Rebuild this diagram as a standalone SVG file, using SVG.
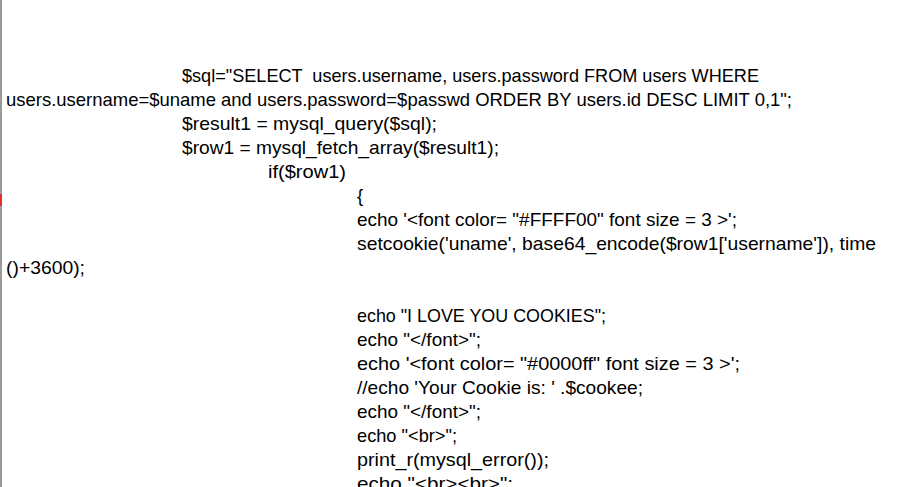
<svg xmlns="http://www.w3.org/2000/svg" width="917" height="487" viewBox="0 0 917 487">
<style>text{font-family:"Liberation Sans",Arial,sans-serif;font-size:18.5px;fill:#000;white-space:pre}</style>
<rect width="917" height="487" fill="#fff"/>
<line x1="1" y1="0" x2="1" y2="487" stroke="#9a9a9a" stroke-width="2"/>
<line x1="1" y1="194" x2="1" y2="206" stroke="#e03030" stroke-width="2"/>
<g id="code">
<text x="182" y="82" textLength="577" lengthAdjust="spacingAndGlyphs" xml:space="preserve">$sql="SELECT  users.username, users.password FROM users WHERE</text>
<text x="6" y="106" textLength="786" lengthAdjust="spacingAndGlyphs">users.username=$uname and users.password=$passwd ORDER BY users.id DESC LIMIT 0,1";</text>
<text x="182" y="130" textLength="255" lengthAdjust="spacingAndGlyphs">$result1 = mysql_query($sql);</text>
<text x="182" y="154" textLength="317" lengthAdjust="spacingAndGlyphs">$row1 = mysql_fetch_array($result1);</text>
<text x="268" y="178" textLength="78" lengthAdjust="spacingAndGlyphs">if($row1)</text>
<text x="357" y="202">{</text>
<text x="357" y="226" textLength="380" lengthAdjust="spacingAndGlyphs">echo '&lt;font color= "#FFFF00" font size = 3 &gt;';</text>
<text x="357" y="250" textLength="519" lengthAdjust="spacingAndGlyphs">setcookie('uname', base64_encode($row1['username']), time</text>
<text x="6" y="274" textLength="79" lengthAdjust="spacingAndGlyphs">()+3600);</text>
<text x="357" y="322" textLength="249" lengthAdjust="spacingAndGlyphs">echo "I LOVE YOU COOKIES";</text>
<text x="357" y="346" textLength="124" lengthAdjust="spacingAndGlyphs">echo "&lt;/font&gt;";</text>
<text x="357" y="370" textLength="383" lengthAdjust="spacingAndGlyphs">echo '&lt;font color= "#0000ff" font size = 3 &gt;';</text>
<text x="357" y="394" textLength="286" lengthAdjust="spacingAndGlyphs">//echo 'Your Cookie is: ' .$cookee;</text>
<text x="357" y="418" textLength="124" lengthAdjust="spacingAndGlyphs">echo "&lt;/font&gt;";</text>
<text x="357" y="442" textLength="100" lengthAdjust="spacingAndGlyphs">echo "&lt;br&gt;";</text>
<text x="357" y="466" textLength="192" lengthAdjust="spacingAndGlyphs">print_r(mysql_error());</text>
<text x="357" y="490" textLength="156" lengthAdjust="spacingAndGlyphs">echo "&lt;br&gt;&lt;br&gt;";</text>
</g>
</svg>
